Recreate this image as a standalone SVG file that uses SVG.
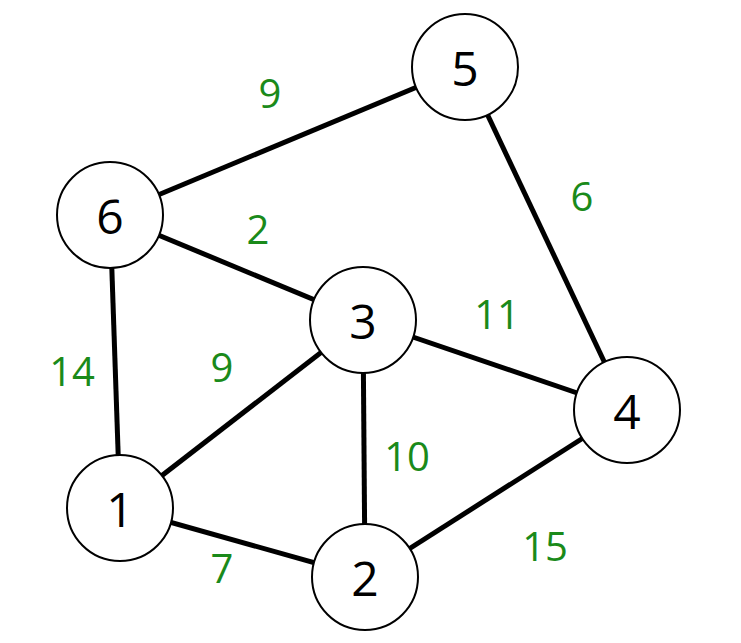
<svg xmlns="http://www.w3.org/2000/svg" width="741" height="643" viewBox="0 0 741 643">
<style>
.e{stroke:#000;stroke-width:5;fill:none}
.n circle{fill:#fff;stroke:#000;stroke-width:2}
.n text{font-family:"Open Sans","Liberation Sans",sans-serif;font-size:48px;text-anchor:middle;dominant-baseline:central}
.w{font-family:"Open Sans","Liberation Sans",sans-serif;font-size:40px;fill:#1a8a1a;text-anchor:middle;dominant-baseline:central}
</style>
<rect width="741" height="643" fill="#fff"/>
<g id="edges">
<line class="e" x1="110" y1="215" x2="465" y2="67"/>
<line class="e" x1="110" y1="215" x2="363" y2="320"/>
<line class="e" x1="110" y1="215" x2="120" y2="508"/>
<line class="e" x1="363" y1="320" x2="120" y2="508"/>
<line class="e" x1="363" y1="320" x2="365" y2="577"/>
<line class="e" x1="363" y1="320" x2="627" y2="410"/>
<line class="e" x1="465" y1="67" x2="627" y2="410"/>
<line class="e" x1="120" y1="508" x2="365" y2="577"/>
<line class="e" x1="365" y1="577" x2="627" y2="410"/>
<text class="w" x="270" y="92">9</text>
<text class="w" x="258" y="228">2</text>
<text class="w" x="582" y="195">6</text>
<text class="w" x="497" y="313">11</text>
<text class="w" x="72" y="370">14</text>
<text class="w" x="222" y="366">9</text>
<text class="w" x="407" y="455">10</text>
<text class="w" x="545" y="545">15</text>
<text class="w" x="222" y="567">7</text>
</g>
<g id="n5" class="n"><circle cx="465" cy="67" r="53"/><text x="465" y="67">5</text></g>
<g id="n6" class="n"><circle cx="110" cy="215" r="53"/><text x="110" y="215">6</text></g>
<g id="n3" class="n"><circle cx="363" cy="320" r="53"/><text x="363" y="320">3</text></g>
<g id="n4" class="n"><circle cx="627" cy="410" r="53"/><text x="627" y="410">4</text></g>
<g id="n1" class="n"><circle cx="120" cy="508" r="53"/><text x="120" y="508">1</text></g>
<g id="n2" class="n"><circle cx="365" cy="577" r="53"/><text x="365" y="577">2</text></g>
</svg>
